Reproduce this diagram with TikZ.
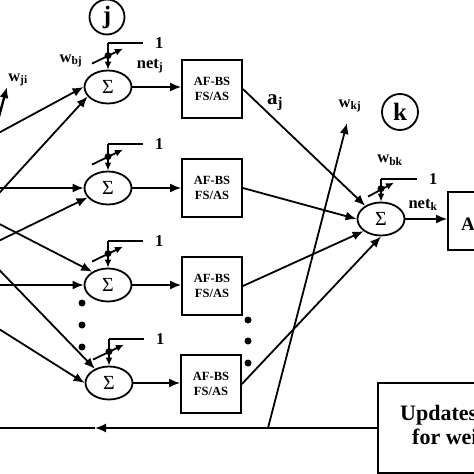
\documentclass[tikz,border=0pt]{standalone}
\usepackage{fontspec}
\setmainfont{Liberation Serif}
\usetikzlibrary{shapes,arrows.meta,positioning}
\tikzstyle{sum} = [draw,line width=1.8pt,ellipse,inner sep=0,minimum width=47pt,minimum height=33pt,font=\fontsize{20}{20}\selectfont]
\tikzstyle{block} = [draw,line width=1.8pt,rectangle,inner sep=0,minimum width=60pt,minimum height=58pt,align=center,font=\fontsize{12.5}{14.5}\selectfont\bfseries]
\tikzstyle{layer} = [draw,line width=1.8pt,circle,inner sep=0,minimum size=35pt,font=\fontsize{25}{25}\selectfont\bfseries]
\tikzstyle{wire} = [-,line width=1.8pt]
\tikzstyle{arr} = [wire,-{Latex[length=11pt,width=9pt]}]
\tikzstyle{biasarr} = [wire,-{Latex[length=8pt,width=7pt]}]
\tikzstyle{site} = [circle,fill=black,inner sep=0,minimum size=7pt]
\tikzstyle{lab} = [font=\fontsize{16.5}{16.5}\selectfont\bfseries]
\tikzstyle{big} = [font=\fontsize{22}{22}\selectfont\bfseries,inner sep=0]
\def \bl {27pt}
\begin{document}
\begin{tikzpicture}[x=1pt,y=-1pt]
\useasboundingbox (0,0) rectangle (474,474);
\clip (0,0) rectangle (474,474);
% hidden layer j
\node[layer] (cj) at (107,17) {j};
\node[sum] (s1) at (108,87) {Σ};
\node[sum] (s2) at (108,188) {Σ};
\node[sum] (s3) at (108,285) {Σ};
\node[sum] (s4) at (109,383) {Σ};
\node[block] (f1) at (212,89) {AF-BS\\FS/AS};
\node[block] (f2) at (212,188) {AF-BS\\FS/AS};
\node[block] (f3) at (212,286) {AF-BS\\FS/AS};
\node[block] (f4) at (211,384) {AF-BS\\FS/AS};
\draw[arr] (s1.east) -- (s1.east -| f1.west);
\draw[arr] (s2.east) -- (s2.east -| f2.west);
\draw[arr] (s3.east) -- (s3.east -| f3.west);
\draw[arr] (s4.east) -- (s4.east -| f4.west);
% bias inputs
\coordinate[above=\bl of s1.north] (b1);
\coordinate[below=13pt of b1] (d1);
\draw[biasarr] (b1) -- (s1.north);
\draw[wire] (b1) -- ++(35,0) node[lab,right=8pt]{1};
\draw[biasarr] (d1) ++(-16,8) -- ++(31,-15);
\node[site] (p1) at (d1) {};
\coordinate[above=\bl of s2.north] (b2);
\coordinate[below=13pt of b2] (d2);
\draw[biasarr] (b2) -- (s2.north);
\draw[wire] (b2) -- ++(35,0) node[lab,right=8pt]{1};
\draw[biasarr] (d2) ++(-16,8) -- ++(31,-15);
\node[site] (p2) at (d2) {};
\coordinate[above=\bl of s3.north] (b3);
\coordinate[below=13pt of b3] (d3);
\draw[biasarr] (b3) -- (s3.north);
\draw[wire] (b3) -- ++(35,0) node[lab,right=8pt]{1};
\draw[biasarr] (d3) ++(-16,8) -- ++(31,-15);
\node[site] (p3) at (d3) {};
\coordinate[above=\bl of s4.north] (b4);
\coordinate[below=13pt of b4] (d4);
\draw[biasarr] (b4) -- (s4.north);
\draw[wire] (b4) -- ++(35,0) node[lab,right=8pt]{1};
\draw[biasarr] (d4) ++(-16,8) -- ++(31,-15);
\node[site] (p4) at (d4) {};
\node[lab] (wbj) at (71,61) {w\textsubscript{bj}};
\node[lab] (netj) at (150,66) {net\textsubscript{j}};
\node[lab] (wji) at (18,80) {w\textsubscript{ji}};
% inputs from layer i
\coordinate (i1) at (-20,143);
\coordinate (i2) at (-20,188);
\coordinate (i3) at (-20,214);
\coordinate (i4) at (-20,250);
\coordinate (i5) at (-20,285);
\coordinate (i6) at (-20,317);
\draw[arr] (i1) -- (s1.west);
\draw[arr] (i3) -- (s1.205);
\draw[arr] (i2) -- (s2.west);
\draw[arr] (i4) -- (s2.205);
\draw[arr] (i3) -- (s3.140);
\draw[arr] (i5) -- (s3.west);
\draw[arr] (i4) -- (s4.135);
\draw[arr] (i6) -- (s4.west);
\coordinate (wi) at (1,105);
\draw[arr,line width=2.4pt] (wi) ++(-7,30) -- ++(13,-48);
% dots
\node[site] (dl1) at (82,303) {};
\node[site] (dl2) at (82,325) {};
\node[site] (dl3) at (82,347) {};
\node[site] (dr1) at (248,320) {};
\node[site] (dr2) at (248,341) {};
\node[site] (dr3) at (248,363) {};
% output layer k
\node[sum] (sk) at (381,219) {Σ};
\node[layer,minimum size=36pt] (ck) at (400,112) {k};
\node[block] (out) at (478,221) {};
\node[anchor=west,inner sep=0,font=\fontsize{19}{19}\selectfont\bfseries] (outtxt) at (461,224) {A};
\draw[arr] (f1.east) -- (sk.140);
\draw[arr] (f2.east) -- (sk.west);
\draw[arr] (f3.east) -- (sk.215);
\draw[arr] (f4.east) -- (sk.south);
\node[font=\fontsize{21}{21}\selectfont\bfseries] (aj) at (275,103) {a\textsubscript{j}};
\draw[arr] (sk.east) -- (sk.east -| out.west);
\node[lab] (netk) at (423,205) {net\textsubscript{k}};
\coordinate[above=23pt of sk.north] (bk);
\coordinate[below=10pt of bk] (dk);
\draw[biasarr] (bk) -- (sk.north);
\draw[wire] (bk) -- ++(36,0) node[lab,right=8pt]{1};
\draw[biasarr] (dk) ++(-13,8) -- ++(26,-14);
\node[site] (pk) at (dk) {};
\node[lab] (wbk) at (390,160) {w\textsubscript{bk}};
% weight updates
\node[block,minimum width=130pt,minimum height=90pt] (upd) at (443,428) {};
\node[big,anchor=base west] (u1) at (400,420) {Updates};
\node[big,anchor=base west] (u2) at (412,444) {for weights};
\coordinate (fm) at (95,428);
\coordinate (fb) at (-5,428);
\draw[arr] (upd.west) -- (fm);
\draw[wire] (fm) -- (fb);
\coordinate (wk) at (268,428);
\coordinate (wkt) at (347,123);
\draw[arr] (wk) -- (wkt);
\node[lab] (wkj) at (350,106) {w\textsubscript{kj}};
\end{tikzpicture}
\end{document}
